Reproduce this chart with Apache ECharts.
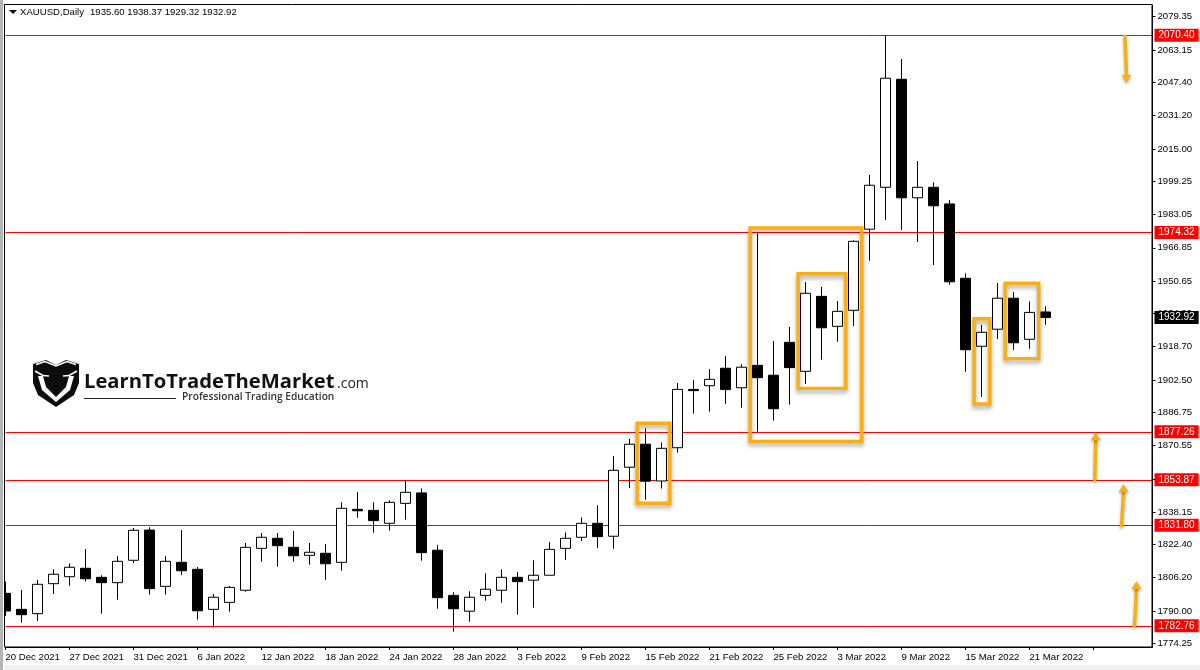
<!DOCTYPE html>
<html><head><meta charset="utf-8"><style>html,body{margin:0;padding:0;background:#fff}#c{width:1200px;height:670px}</style>
<script src="https://cdn.jsdelivr.net/npm/echarts@6/dist/echarts.min.js"></script></head><body><div id="c"></div>
<script>
const dateLabels=['20 Dec 2021','27 Dec 2021','31 Dec 2021','6 Jan 2022','12 Jan 2022','18 Jan 2022','24 Jan 2022','28 Jan 2022','3 Feb 2022','9 Feb 2022','15 Feb 2022','21 Feb 2022','25 Feb 2022','3 Mar 2022','9 Mar 2022','15 Mar 2022','21 Mar 2022'];
const priceTicks=[1774.25,1790.00,1806.20,1822.40,1838.15,1854.35,1870.55,1886.75,1902.50,1918.70,1934.90,1950.65,1966.85,1983.05,1999.25,2015.00,2031.20,2047.40,2063.15,2079.35];
const levels=[2070.40,1974.32,1877.26,1853.87,1831.80,1782.76];
const lastPrice=1932.92;
// open, close, low, high
const ohlc=[[1798.6,1790.0,1787.6,1804.3],[1790.8,1788.2,1784.3,1800.2],[1788.7,1803.0,1785.1,1805.1],[1803.3,1807.9,1798.3,1810.3],[1806.7,1811.3,1802.3,1813.2],[1810.8,1805.7,1804.3,1820.2],[1806.4,1803.8,1788.7,1807.4],[1803.8,1814.2,1795.5,1816.8],[1814.7,1829.3,1813.4,1830.4],[1829.4,1800.9,1797.9,1830.8],[1802.0,1814.2,1797.9,1816.8],[1813.7,1809.6,1807.5,1829.4],[1810.3,1790.1,1785.8,1811.4],[1790.8,1796.7,1781.9,1798.3],[1794.2,1801.5,1789.7,1802.2],[1800.1,1821.0,1799.4,1823.1],[1820.5,1825.9,1814.0,1828.0],[1825.4,1821.8,1811.6,1828.0],[1821.0,1816.9,1814.0,1829.0],[1817.1,1818.6,1812.5,1823.1],[1818.1,1813.0,1805.2,1822.6],[1813.7,1840.0,1809.6,1842.9],[1839.5,1838.8,1835.4,1847.9],[1839.0,1834.0,1828.1,1842.9],[1832.7,1842.9,1829.1,1843.9],[1842.4,1847.8,1834.5,1853.4],[1847.5,1818.4,1814.5,1849.7],[1819.6,1796.5,1791.1,1822.1],[1797.6,1791.1,1779.9,1799.1],[1789.9,1796.7,1784.8,1799.6],[1797.6,1800.6,1795.0,1808.4],[1800.1,1806.4,1794.0,1810.3],[1806.4,1804.3,1788.2,1809.0],[1805.0,1807.4,1791.6,1814.7],[1807.4,1820.0,1807.4,1823.5],[1820.5,1825.4,1814.8,1828.3],[1825.9,1832.7,1824.1,1835.6],[1832.7,1826.2,1820.7,1841.5],[1826.4,1858.5,1820.3,1865.5],[1860.0,1871.2,1849.9,1873.8],[1871.2,1853.2,1844.2,1879.0],[1853.3,1869.2,1849.6,1872.1],[1869.5,1897.9,1867.1,1901.0],[1897.9,1897.3,1886.1,1902.5],[1899.7,1902.8,1887.1,1907.8],[1908.2,1897.8,1890.9,1914.2],[1898.7,1908.7,1889.0,1910.1],[1909.6,1903.6,1877.3,1973.9],[1904.8,1888.5,1882.7,1921.5],[1920.8,1908.5,1890.5,1928.3],[1906.7,1944.7,1900.5,1950.2],[1943.2,1927.9,1912.4,1947.8],[1928.6,1935.9,1921.1,1940.9],[1936.4,1970.0,1928.8,1970.5],[1975.9,1997.3,1960.6,2002.3],[1996.3,2049.4,1980.4,2070.1],[2048.9,1991.2,1975.5,2058.8],[1991.2,1996.3,1969.7,2009.1],[1996.3,1987.3,1958.5,1998.7],[1988.2,1950.3,1948.9,1990.1],[1952.0,1917.2,1906.5,1954.4],[1918.9,1925.7,1894.2,1929.3],[1927.2,1942.3,1922.4,1949.7],[1942.3,1920.6,1917.1,1945.3],[1922.3,1935.4,1917.7,1940.8],[1935.6,1932.92,1929.32,1938.37]];
// annotation boxes: barLeft, barRight, priceTop, priceBottom
const boxes=[[39.48,41.52,1881.4,1842.45],[46.54,53.52,1976.5,1872.6],[49.54,52.52,1954.2,1898.4],[60.54,61.52,1932.3,1890.8],[62.48,64.58,1949.6,1912.9]];
// annotation arrows: tailBar, tailPrice, tipBar, tipPrice
const arrows=[[69.96,2070.6,70.06,2047.2],[68.08,1853.2,68.14,1877.0],[69.75,1830.9,69.88,1851.8],[70.56,1782.2,70.69,1804.6]];
const FONT='"Liberation Sans"';
const FS=9.6;
const ORANGE='#FBAE0F';
const chart=echarts.init(document.getElementById('c'),null,{renderer:'canvas'});
const tag=(v,bg)=>({yAxis:v,label:{show:true,position:'end',formatter:v.toFixed(2),color:'#fff',backgroundColor:bg,fontFamily:FONT,fontSize:10,padding:[3,4,0,4],distance:2}});
const mirror=pts=>pts.map(p=>[112-p[0],p[1]]);
const hornL=[[38,376],[42,390],[56,402],[56,397],[46,387],[43,376]];
chart.setOption({
 animation:false,backgroundColor:'#fff',
 grid:{left:5.5,top:5,width:1147,height:642,show:false,outerBoundsMode:'none',containLabel:false},
 xAxis:{type:'value',min:0,max:71.69,interval:4,splitLine:{show:false},
  axisLine:{onZero:false,lineStyle:{color:'#000',width:1}},axisTick:{length:3,lineStyle:{color:'#000'},inside:false},
  axisLabel:{showMaxLabel:false,hideOverlap:false,align:'left',margin:5,color:'#000',fontFamily:FONT,fontSize:FS,formatter:v=>dateLabels[Math.round(v/4)]||''}},
 yAxis:{type:'value',position:'right',min:1772.47,max:2085.07,splitLine:{show:false},
  axisLine:{show:true,onZero:false,lineStyle:{color:'#000',width:1}},
  axisTick:{show:true,length:3,lineStyle:{color:'#000'},customValues:priceTicks},
  axisLabel:{margin:5,padding:[4,0,0,0],hideOverlap:false,color:'#000',fontFamily:FONT,fontSize:FS,customValues:priceTicks,formatter:v=>v.toFixed(2),showMinLabel:true,showMaxLabel:true}},
 graphic:[
  {type:'rect',z:-1,shape:{x:0,y:665,width:1200,height:5},style:{fill:'#f0f0f0'}},
  {type:'rect',z:6,shape:{x:0,y:0,width:4.5,height:670},style:{fill:'#fff'}},
  {type:'rect',z:7,shape:{x:0,y:0,width:3,height:670},style:{fill:'#b4b4b4'}},
  {type:'rect',z:7,shape:{x:4.5,y:4.5,width:1147.5,height:642.5},style:{fill:'none',stroke:'#000',lineWidth:1}},
  {type:'polygon',z:20,shape:{points:[[9,10],[17,10],[13,14]]},style:{fill:'#000'}},
  {type:'text',z:20,x:20,y:12.5,style:{text:'XAUUSD,Daily',font:FS+'px '+FONT,fill:'#000',verticalAlign:'middle'}},
  {type:'text',z:20,x:90,y:12.5,style:{text:'1935.60 1938.37 1929.32 1932.92',font:FS+'px '+FONT,fill:'#000',verticalAlign:'middle'}},
  {type:'polygon',z:20,shape:{points:[[33,364],[46,360],[56,365],[66,360],[79,364],[79,383],[74,395],[56,407],[38,395],[33,383]]},style:{fill:'#0c0c0c'}},
  {type:'polyline',z:21,shape:{points:[[36,364.5],[45,361.5],[56,366],[67,361.5],[76,364.5]]},style:{stroke:'#fff',lineWidth:1.5,fill:'none'}},
  {type:'polyline',z:21,shape:{points:[[35,371],[43,375.5],[49,376]]},style:{stroke:'#fff',lineWidth:1.5,fill:'none'}},
  {type:'polyline',z:21,shape:{points:mirror([[35,371],[43,375.5],[49,376]])},style:{stroke:'#fff',lineWidth:1.5,fill:'none'}},
  {type:'polygon',z:21,shape:{points:hornL},style:{fill:'#fff'}},
  {type:'polygon',z:21,shape:{points:mirror(hornL)},style:{fill:'#fff'}},
  {type:'text',z:20,x:84,y:382.5,style:{text:'LearnToTradeTheMarket',font:'700 20.2px "Open Sans"',fill:'#111',verticalAlign:'middle'}},
  {type:'text',z:20,x:337,y:384.5,style:{text:'.com',font:'14px "Open Sans"',fill:'#222',verticalAlign:'middle'}},
  {type:'rect',z:20,shape:{x:84,y:398,width:92,height:1},style:{fill:'#222'}},
  {type:'text',z:20,x:182,y:397.5,style:{text:'Professional Trading Education',font:'600 10.2px "Open Sans"',fill:'#333',verticalAlign:'middle'}}
 ],
 series:[
  {type:'candlestick',barWidth:10.5,clip:true,z:3,data:ohlc.map((d,i)=>[i,...d]),encode:{x:0,y:[1,2,3,4]},
   itemStyle:{color:'#fff',color0:'#000',borderColor:'#000',borderColor0:'#000',borderWidth:1},
   markLine:{silent:true,symbol:'none',animation:false,z:2,lineStyle:{color:'#f00',width:1,type:'solid'},
    data:[...levels.map(v=>tag(v,'#f00')),{...tag(lastPrice,'#000'),lineStyle:{color:'rgba(0,0,0,0)',width:0}}]}},
  {type:'custom',z:10,clip:false,coordinateSystem:'cartesian2d',data:boxes,encode:{x:[0,1],y:[2,3]},
   renderItem:(p,api)=>{const a=api.coord([api.value(0),api.value(2)]),b=api.coord([api.value(1),api.value(3)]);
    return {type:'rect',shape:{x:a[0],y:a[1],width:b[0]-a[0],height:b[1]-a[1]},style:{fill:'none',stroke:ORANGE,lineWidth:3.4,shadowColor:'rgba(0,0,0,0.35)',shadowBlur:4,shadowOffsetY:3}};}},
  {type:'custom',z:10,clip:false,coordinateSystem:'cartesian2d',data:arrows,encode:{x:[0,2],y:[1,3]},
   renderItem:(p,api)=>{const a=api.coord([api.value(0),api.value(1)]),b=api.coord([api.value(2),api.value(3)]);
    const d=b[1]>a[1]?1:-1;
    const neck=[b[0],b[1]-d*8];
    return {type:'group',children:[
     {type:'line',shape:{x1:a[0],y1:a[1],x2:neck[0],y2:neck[1]},style:{stroke:ORANGE,lineWidth:3.4,shadowColor:'rgba(0,0,0,0.3)',shadowBlur:3,shadowOffsetY:2}},
     {type:'polygon',shape:{points:[b,[b[0]-5,neck[1]],[b[0]+5,neck[1]]]},style:{fill:ORANGE,shadowColor:'rgba(0,0,0,0.3)',shadowBlur:3,shadowOffsetY:2}}]};}}
 ]
});
</script></body></html>
